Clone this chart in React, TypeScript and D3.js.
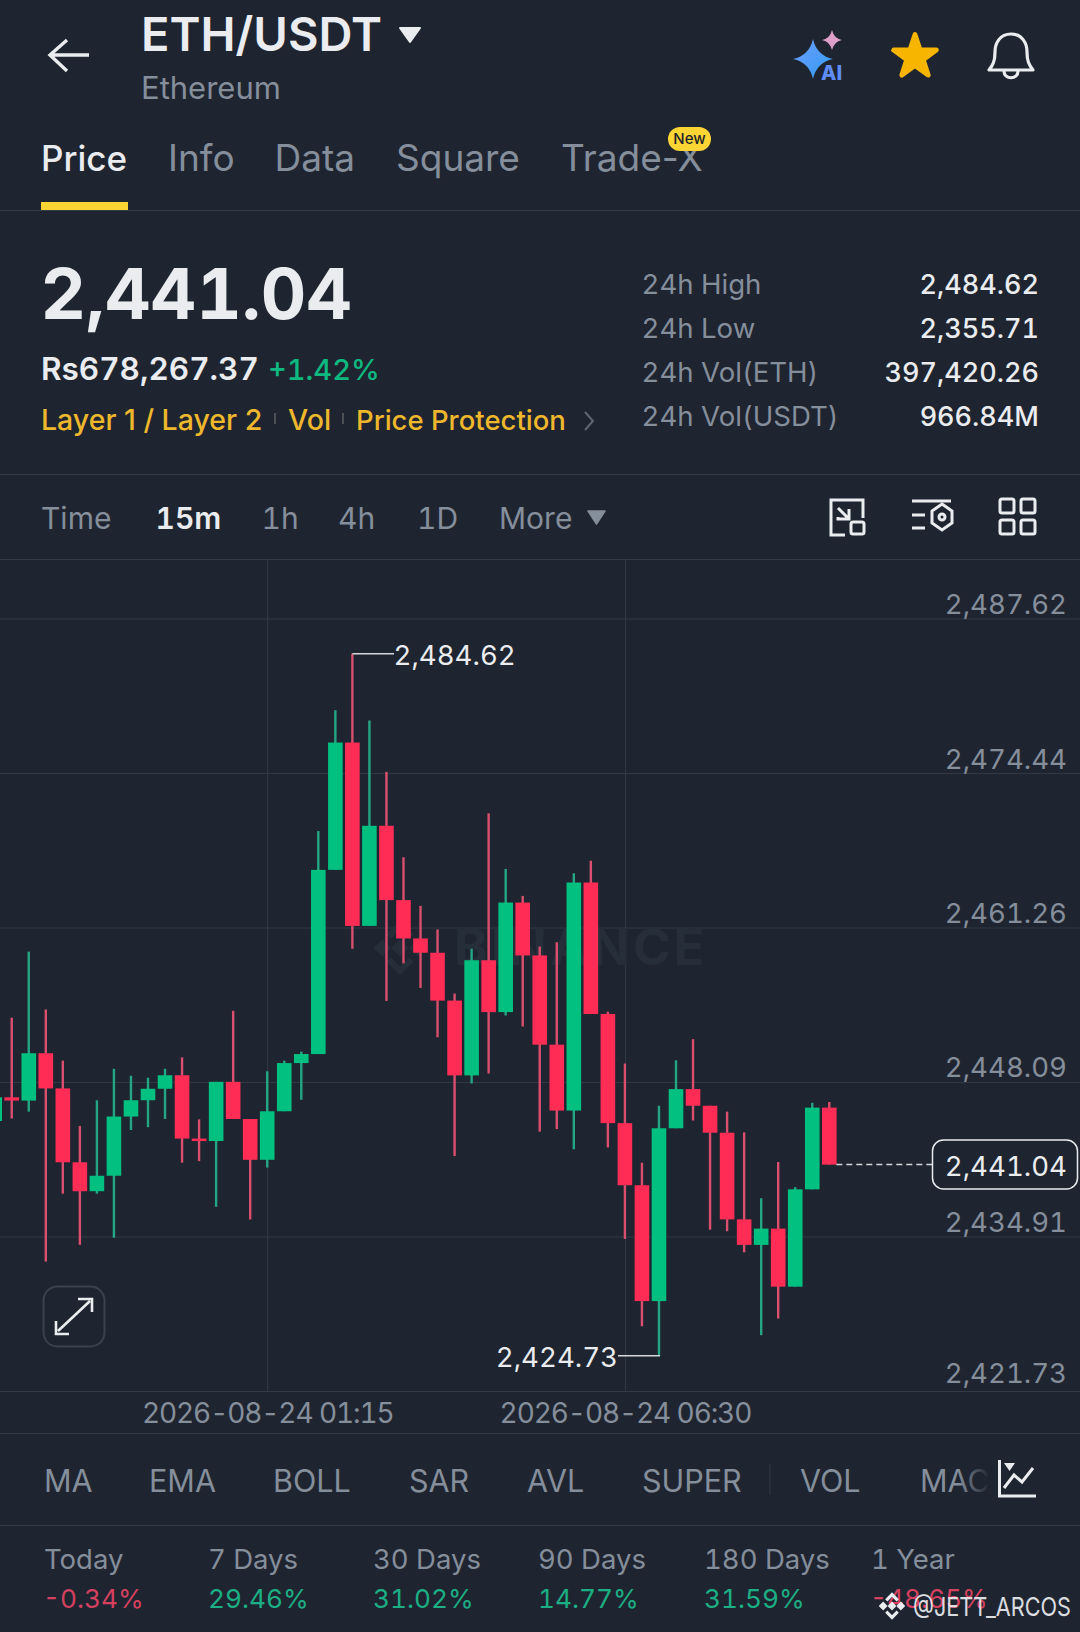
import { useEffect, useRef } from 'react';
import * as d3 from 'd3';

// 15m candles, first one is cut off by the left edge
const opens = [2444.76, 2446.78, 2446.5, 2450.54, 2447.54, 2441.24, 2438.77, 2440.09, 2445.14, 2446.53, 2447.51, 2448.66, 2443.26, 2443.05, 2448.1, 2444.93, 2441.45, 2445.59, 2449.7, 2450.47, 2466.18, 2477.04, 2461.4, 2469.94, 2463.6, 2460.33, 2459.11, 2455.03, 2448.65, 2458.47, 2454.05, 2463.39, 2458.88, 2451.27, 2445.65, 2465.1, 2453.89, 2444.58, 2439.28, 2429.4, 2444.14, 2447.48, 2446.06, 2443.76, 2436.37, 2434.19, 2435.58, 2430.63, 2438.93, 2445.9];
const closes = [2446.78, 2446.5, 2450.54, 2447.54, 2441.24, 2438.77, 2440.09, 2445.14, 2446.53, 2447.51, 2448.66, 2443.26, 2443.05, 2448.1, 2444.93, 2441.45, 2445.59, 2449.7, 2450.47, 2466.18, 2477.04, 2461.4, 2469.94, 2463.6, 2460.33, 2459.11, 2455.03, 2448.65, 2458.47, 2454.05, 2463.39, 2458.88, 2451.27, 2445.65, 2465.1, 2453.89, 2444.58, 2439.28, 2429.4, 2444.14, 2447.48, 2446.06, 2443.76, 2436.37, 2434.19, 2435.58, 2430.63, 2438.93, 2445.9, 2441.04];
const highs = [2448.0, 2453.57, 2459.21, 2454.27, 2449.91, 2444.34, 2446.53, 2449.21, 2448.62, 2448.45, 2449.21, 2450.19, 2444.9, 2448.1, 2454.16, 2444.93, 2449.0, 2449.91, 2450.68, 2469.49, 2479.8, 2484.62, 2478.92, 2474.54, 2467.26, 2463.11, 2461.1, 2455.63, 2459.45, 2471.0, 2466.26, 2463.96, 2459.64, 2460.01, 2465.89, 2466.96, 2454.08, 2449.66, 2441.2, 2446.06, 2449.94, 2451.74, 2446.06, 2445.56, 2443.79, 2438.17, 2441.26, 2439.12, 2446.31, 2446.38];
const lows = [2444.76, 2444.97, 2445.56, 2432.77, 2438.56, 2434.2, 2438.56, 2434.8, 2443.99, 2444.23, 2444.93, 2441.2, 2441.34, 2437.44, 2444.93, 2436.36, 2440.79, 2445.59, 2446.57, 2450.47, 2466.18, 2459.45, 2461.4, 2455.0, 2458.2, 2456.11, 2451.9, 2441.77, 2447.96, 2448.81, 2453.76, 2452.82, 2443.85, 2444.07, 2442.34, 2453.89, 2442.5, 2434.7, 2427.25, 2424.73, 2444.14, 2444.8, 2435.49, 2435.36, 2433.56, 2426.49, 2427.91, 2430.63, 2438.93, 2441.04];

const priceTicks = [2487.62, 2474.44, 2461.26, 2448.09, 2434.91, 2421.73];
const timeTickIndex = [16, 37];
const timeTickLabels = ['2026-08-24 01:15', '2026-08-24 06:30'];
const highPrice = 2484.62;
const lowPrice = 2424.73;
const lastPrice = 2441.04;

const tabs = ['Price', 'Info', 'Data', 'Square', 'Trade-X'];
const statLabels = ['24h High', '24h Low', '24h Vol(ETH)', '24h Vol(USDT)'];
const statValues = ['2,484.62', '2,355.71', '397,420.26', '966.84M'];
const intervals = ['Time', '15m', '1h', '4h', '1D', 'More'];
const indicators = ['MA', 'EMA', 'BOLL', 'SAR', 'AVL', 'SUPER', 'VOL', 'MACD'];
const periods = ['Today', '7 Days', '30 Days', '90 Days', '180 Days', '1 Year'];
const periodChanges = ['-0.34%', '29.46%', '31.02%', '14.77%', '31.59%', '-48.65%'];

const BG = '#1e2530';
const LINE = '#323a46';
const GREY = '#858e9b';
const WHITE = '#eaecef';
const UP = '#02c07f';
const DOWN = '#ff2d56';
const UP_WICK = '#24a684';
const DOWN_WICK = '#d94f6d';
const GOLD = '#efb72c';
const FONT = 'Inter, "Noto Sans", sans-serif';

type G = d3.Selection<any, unknown, null, undefined>;

function label(g: G, x: number, y: number, s: string, size: number, fill: string, weight = 400, anchor = 'start') {
  return g.append('text')
    .attr('x', x)
    .attr('y', y)
    .attr('font-size', size)
    .attr('font-weight', weight)
    .attr('fill', fill)
    .attr('text-anchor', anchor)
    .text(s);
}

function binanceLogo(g: G, cx: number, cy: number, s: number, fill: string) {
  const squares: [number, number, number][] = [[0, 0, 0.24], [-0.68, 0, 0.24], [0.68, 0, 0.24]];
  squares.forEach(([dx, dy, r]) => {
    g.append('rect')
      .attr('x', -r * s)
      .attr('y', -r * s)
      .attr('width', 2 * r * s)
      .attr('height', 2 * r * s)
      .attr('fill', fill)
      .attr('transform', `translate(${cx + dx * s},${cy + dy * s}) rotate(45)`);
  });
  g.append('path')
    .attr('d', `M${cx - 0.44 * s},${cy - 0.44 * s}L${cx},${cy - 0.88 * s}L${cx + 0.44 * s},${cy - 0.44 * s}`)
    .attr('fill', 'none').attr('stroke', fill).attr('stroke-width', 0.24 * s);
  g.append('path')
    .attr('d', `M${cx - 0.44 * s},${cy + 0.44 * s}L${cx},${cy + 0.88 * s}L${cx + 0.44 * s},${cy + 0.44 * s}`)
    .attr('fill', 'none').attr('stroke', fill).attr('stroke-width', 0.24 * s);
}

function sparkle(cx: number, cy: number, rx: number, ry: number) {
  const k = 0.18;
  return `M${cx},${cy - ry}Q${cx + rx * k},${cy - ry * k} ${cx + rx},${cy}Q${cx + rx * k},${cy + ry * k} ${cx},${cy + ry}Q${cx - rx * k},${cy + ry * k} ${cx - rx},${cy}Q${cx - rx * k},${cy - ry * k} ${cx},${cy - ry}Z`;
}

function drawHeader(svg: G) {
  const g = svg.append('g');
  // back arrow
  g.append('path')
    .attr('d', 'M89,55H51M67,40L50,55L67,71')
    .attr('fill', 'none').attr('stroke', WHITE).attr('stroke-width', 3.4);
  label(g, 141, 51, 'ETH/USDT', 47, WHITE, 600);
  g.append('path').attr('d', 'M400,28H420L410,42Z').attr('fill', WHITE).attr('stroke', WHITE).attr('stroke-width', 2).attr('stroke-linejoin', 'round');
  label(g, 141, 99, 'Ethereum', 31, GREY);

  // AI sparkle
  const defs = svg.append('defs');
  const grad = defs.append('linearGradient').attr('id', 'ai').attr('x1', 0).attr('y1', 0).attr('x2', 1).attr('y2', 1);
  grad.append('stop').attr('offset', 0).attr('stop-color', '#6f9cff');
  grad.append('stop').attr('offset', 1).attr('stop-color', '#2f9df0');
  g.append('path').attr('d', sparkle(813, 59, 20, 20)).attr('fill', 'url(#ai)');
  g.append('path').attr('d', sparkle(832, 40, 10, 10)).attr('fill', '#dda0c8');
  label(g, 821, 80, 'AI', 20, '#5f8df5', 800);

  const star = d3.symbol().type(d3.symbolStar).size(560)();
  g.append('path').attr('d', star)
    .attr('transform', 'translate(915,57)')
    .attr('fill', '#f7b500').attr('stroke', '#f7b500').attr('stroke-width', 5).attr('stroke-linejoin', 'round');

  // bell
  g.append('path')
    .attr('d', 'M1011,34C1000,34 995,43 995,52C995,61 993,65 989,70H1033C1029,65 1027,61 1027,52C1027,43 1022,34 1011,34Z')
    .attr('fill', 'none').attr('stroke', WHITE).attr('stroke-width', 3.2).attr('stroke-linejoin', 'round');
  g.append('path').attr('d', 'M1004,71C1004,80 1018,80 1018,71').attr('fill', 'none').attr('stroke', WHITE).attr('stroke-width', 3.2);

  // tabs (proportional glyphs, tnum widens the hyphen)
  const tabX = [41, 168, 274.5, 396, 561];
  tabs.forEach((t, i) => label(g, tabX[i], 171, t, i === 0 ? 35 : 37, i === 0 ? WHITE : GREY, i === 0 ? 500 : 400)
    .style('font-feature-settings', 'normal'));
  g.append('rect').attr('x', 41).attr('y', 202).attr('width', 87).attr('height', 8).attr('fill', '#fcd535');
  g.append('rect').attr('x', 668).attr('y', 127).attr('width', 43).attr('height', 24).attr('rx', 12).attr('fill', '#fcd535');
  label(g, 689.5, 144, 'New', 15, '#1e2329', 500, 'middle');
  g.append('line').attr('x1', 0).attr('x2', 1080).attr('y1', 210.5).attr('y2', 210.5).attr('stroke', LINE);

  // price block
  label(g, 40.5, 319, '2,441.04', 70.5, WHITE, 700);
  label(g, 41, 380, 'Rs678,267.37', 31.5, WHITE, 600);
  label(g, 268, 380, '+1.42%', 29, '#0eb981', 500);
  label(g, 41, 430, 'Layer 1 / Layer 2', 28.5, GOLD, 500).style('font-feature-settings', 'normal');
  label(g, 288, 430, 'Vol', 28.5, GOLD, 500);
  label(g, 356, 430, 'Price Protection', 27.5, GOLD, 500);
  [275, 343].forEach(x => g.append('line').attr('x1', x).attr('x2', x).attr('y1', 413).attr('y2', 424).attr('stroke', '#5a5f60').attr('stroke-width', 1.5));
  g.append('path').attr('d', 'M585,412L593,421L585,430').attr('fill', 'none').attr('stroke', '#5f6772').attr('stroke-width', 2);

  const statY = [293.5, 338, 382, 426];
  statLabels.forEach((t, i) => {
    label(g, 641.5, statY[i], t, 27.6, GREY);
    label(g, 1039, statY[i], statValues[i], 27, WHITE, 500, 'end');
  });
  g.append('line').attr('x1', 0).attr('x2', 1080).attr('y1', 474.5).attr('y2', 474.5).attr('stroke', LINE);

  // interval row
  const intervalX = [41, 155.5, 261.5, 338, 417, 499];
  intervals.forEach((t, i) => label(g, intervalX[i], 529, t, 30, i === 1 ? WHITE : GREY, i === 1 ? 600 : 400));
  g.append('path').attr('d', 'M588,511H605L596.5,524Z').attr('fill', GREY).attr('stroke', GREY).attr('stroke-width', 1.5).attr('stroke-linejoin', 'round');

  const ic = g.append('g').attr('fill', 'none').attr('stroke', WHITE).attr('stroke-width', 3);
  ic.append('path').attr('d', 'M845,535H831V500H863V518');
  ic.append('path').attr('d', 'M838,508L849,519M838,517V519H849V509');
  ic.append('rect').attr('x', 851).attr('y', 522).attr('width', 13).attr('height', 12).attr('rx', 2);
  ic.append('path').attr('d', 'M912,501H951M912,515H925M912,528H925');
  ic.append('path').attr('d', 'M942,504L952,511V523L942,530L932,523V511Z');
  ic.append('circle').attr('cx', 942).attr('cy', 517).attr('r', 3);
  [[1000, 499], [1021, 499], [1000, 520], [1021, 520]].forEach(([x, y]) => {
    ic.append('rect').attr('x', x).attr('y', y).attr('width', 14).attr('height', 14).attr('rx', 2);
  });
  g.append('line').attr('x1', 0).attr('x2', 1080).attr('y1', 559.5).attr('y2', 559.5).attr('stroke', LINE);
}

function drawChart(svg: G) {
  const x = d3.scaleLinear().domain([0, 49]).range([-5.3, 829.3]);
  const y = d3.scaleLinear().domain([2421.73, 2487.62]).range([1391, 618.5]);
  const g = svg.append('g');

  // horizontal grid and price labels
  const yAxis = g.append('g').call(
    d3.axisRight(y).tickValues(priceTicks).tickSize(1080).tickFormat(d3.format(',.2f') as any),
  );
  yAxis.select('.domain').remove();
  yAxis.selectAll('line').attr('stroke', LINE);
  yAxis.selectAll('text')
    .attr('x', 1067).attr('y', 0)
    // the bottom label rides a little higher so it clears the axis line
    .attr('dy', (_, i) => (i === priceTicks.length - 1 ? -9 : -5))
    .attr('text-anchor', 'end')
    .attr('font-size', 27.6).attr('font-family', FONT).attr('fill', GREY);

  // vertical grid and date labels
  const xAxis = g.append('g').attr('transform', 'translate(0,1391)').call(
    d3.axisBottom(x).tickValues(timeTickIndex).tickSize(-832)
      .tickFormat((_, i) => timeTickLabels[i]),
  );
  xAxis.select('.domain').remove();
  xAxis.selectAll('line').attr('stroke', LINE);
  xAxis.selectAll('text')
    .attr('y', 32).attr('dy', 0)
    .attr('letter-spacing', -1.1)
    .attr('font-size', 28).attr('font-family', FONT).attr('fill', GREY);

  g.append('line').attr('x1', 0).attr('x2', 1080).attr('y1', 1433.5).attr('y2', 1433.5).attr('stroke', LINE);

  // watermark sits under the candles
  binanceLogo(g, 400, 948, 26, '#262e39');
  label(g, 454, 965, 'BINANCE', 51, '#262e39', 700).attr('letter-spacing', 3);

  const idx = d3.range(opens.length);
  const isUp = (i: number) => closes[i] >= opens[i];

  g.selectAll('.wick').data(idx).join('line')
    .attr('class', 'wick')
    .attr('x1', i => x(i)).attr('x2', i => x(i))
    .attr('y1', i => y(highs[i])).attr('y2', i => y(lows[i]))
    .attr('stroke', i => isUp(i) ? UP_WICK : DOWN_WICK)
    .attr('stroke-width', 2.4);

  g.selectAll('.body').data(idx).join('rect')
    .attr('class', 'body')
    .attr('x', i => x(i) - 7.3)
    .attr('width', 14.6)
    .attr('y', i => y(Math.max(opens[i], closes[i])))
    .attr('height', i => Math.max(2.4, Math.abs(y(opens[i]) - y(closes[i]))))
    .attr('fill', i => isUp(i) ? UP : DOWN);

  // high and low markers
  const hi = highs.indexOf(highPrice);
  const lo = lows.indexOf(lowPrice);
  const fmt = d3.format(',.2f');
  g.append('line').attr('x1', x(hi)).attr('x2', 394).attr('y1', y(highPrice)).attr('y2', y(highPrice)).attr('stroke', '#d5d7da').attr('stroke-width', 1.5);
  label(g, 393.5, y(highPrice) + 11, fmt(highPrice), 27.6, WHITE);
  g.append('line').attr('x1', 618).attr('x2', x(lo) + 1).attr('y1', y(lowPrice)).attr('y2', y(lowPrice)).attr('stroke', '#d5d7da').attr('stroke-width', 1.5);
  label(g, 618, y(lowPrice) + 11, fmt(lowPrice), 27.6, WHITE, 400, 'end');

  // last price tag
  g.append('line').attr('x1', x(49) + 7).attr('x2', 932).attr('y1', y(lastPrice)).attr('y2', y(lastPrice))
    .attr('stroke', '#d5d7da').attr('stroke-width', 1.5).attr('stroke-dasharray', '6 4');
  g.append('rect').attr('x', 932.5).attr('y', 1140).attr('width', 145).attr('height', 49).attr('rx', 11)
    .attr('fill', BG).attr('stroke', WHITE).attr('stroke-width', 1.5);
  label(g, 1067, y(lastPrice) + 11, fmt(lastPrice), 27.6, WHITE, 400, 'end');

  // expand button
  g.append('rect').attr('x', 43.5).attr('y', 1286.5).attr('width', 61).attr('height', 60).attr('rx', 14)
    .attr('fill', BG).attr('stroke', '#39424e').attr('stroke-width', 2);
  g.append('path').attr('d', 'M58,1331L90,1301M78,1299H92V1312M56,1321V1334H69')
    .attr('fill', 'none').attr('stroke', WHITE).attr('stroke-width', 2.6);
}

function drawFooter(svg: G) {
  const g = svg.append('g');
  const indicatorX = [44, 149, 273, 409, 527, 642, 800, 920];
  indicators.forEach((t, i) => label(g, indicatorX[i], 1492, t, 30.5, GREY));
  g.append('line').attr('x1', 770).attr('x2', 770).attr('y1', 1464).attr('y2', 1495).attr('stroke', LINE);

  // MACD fades out under the chart icon
  const fade = svg.append('defs').append('linearGradient').attr('id', 'fade');
  fade.append('stop').attr('offset', 0).attr('stop-color', BG).attr('stop-opacity', 0);
  fade.append('stop').attr('offset', 1).attr('stop-color', BG).attr('stop-opacity', 1);
  g.append('rect').attr('x', 958).attr('y', 1455).attr('width', 32).attr('height', 50).attr('fill', 'url(#fade)');
  g.append('rect').attr('x', 990).attr('y', 1455).attr('width', 90).attr('height', 50).attr('fill', BG);

  const ic = g.append('g').attr('fill', 'none').attr('stroke', WHITE).attr('stroke-width', 3);
  ic.append('path').attr('d', 'M999.5,1460V1496H1036');
  ic.append('path').attr('d', 'M1004,1488L1014,1475L1022,1482L1033,1468');
  g.append('path').attr('d', 'M1004,1463H1015L1009.5,1471Z').attr('fill', WHITE);
  g.append('line').attr('x1', 0).attr('x2', 1080).attr('y1', 1525.5).attr('y2', 1525.5).attr('stroke', LINE);

  const periodX = [44, 208, 373, 538, 704, 871];
  periods.forEach((t, i) => {
    label(g, periodX[i], 1569, t, 27.5, GREY);
    const v = periodChanges[i];
    label(g, v.startsWith('-') ? periodX[i] - 1 : periodX[i], 1608, v, 26.2, v.startsWith('-') ? '#d5405f' : '#1cae84');
  });

  // user watermark on top of the last value
  binanceLogo(g, 892, 1606, 13, WHITE);
  label(g, 913, 1616, '@JETT_ARCOS', 26, WHITE)
    .attr('opacity', 0.92)
    .attr('textLength', 158)
    .attr('lengthAdjust', 'spacingAndGlyphs');
}

export default function App() {
  const svgRef = useRef<SVGSVGElement>(null);

  useEffect(() => {
    if (!svgRef.current) return;
    const svg = d3.select(svgRef.current);
    svg.selectAll('*').remove();
    svg.attr('font-family', FONT).style('font-feature-settings', '"tnum"');
    svg.append('rect').attr('width', 1080).attr('height', 1632).attr('fill', BG);
    drawHeader(svg as any);
    drawChart(svg as any);
    drawFooter(svg as any);
  }, []);

  return (
    <svg
      ref={svgRef}
      width={1080}
      height={1632}
      style={{ position: 'absolute', left: 0, top: 0, display: 'block' }}
    />
  );
}
